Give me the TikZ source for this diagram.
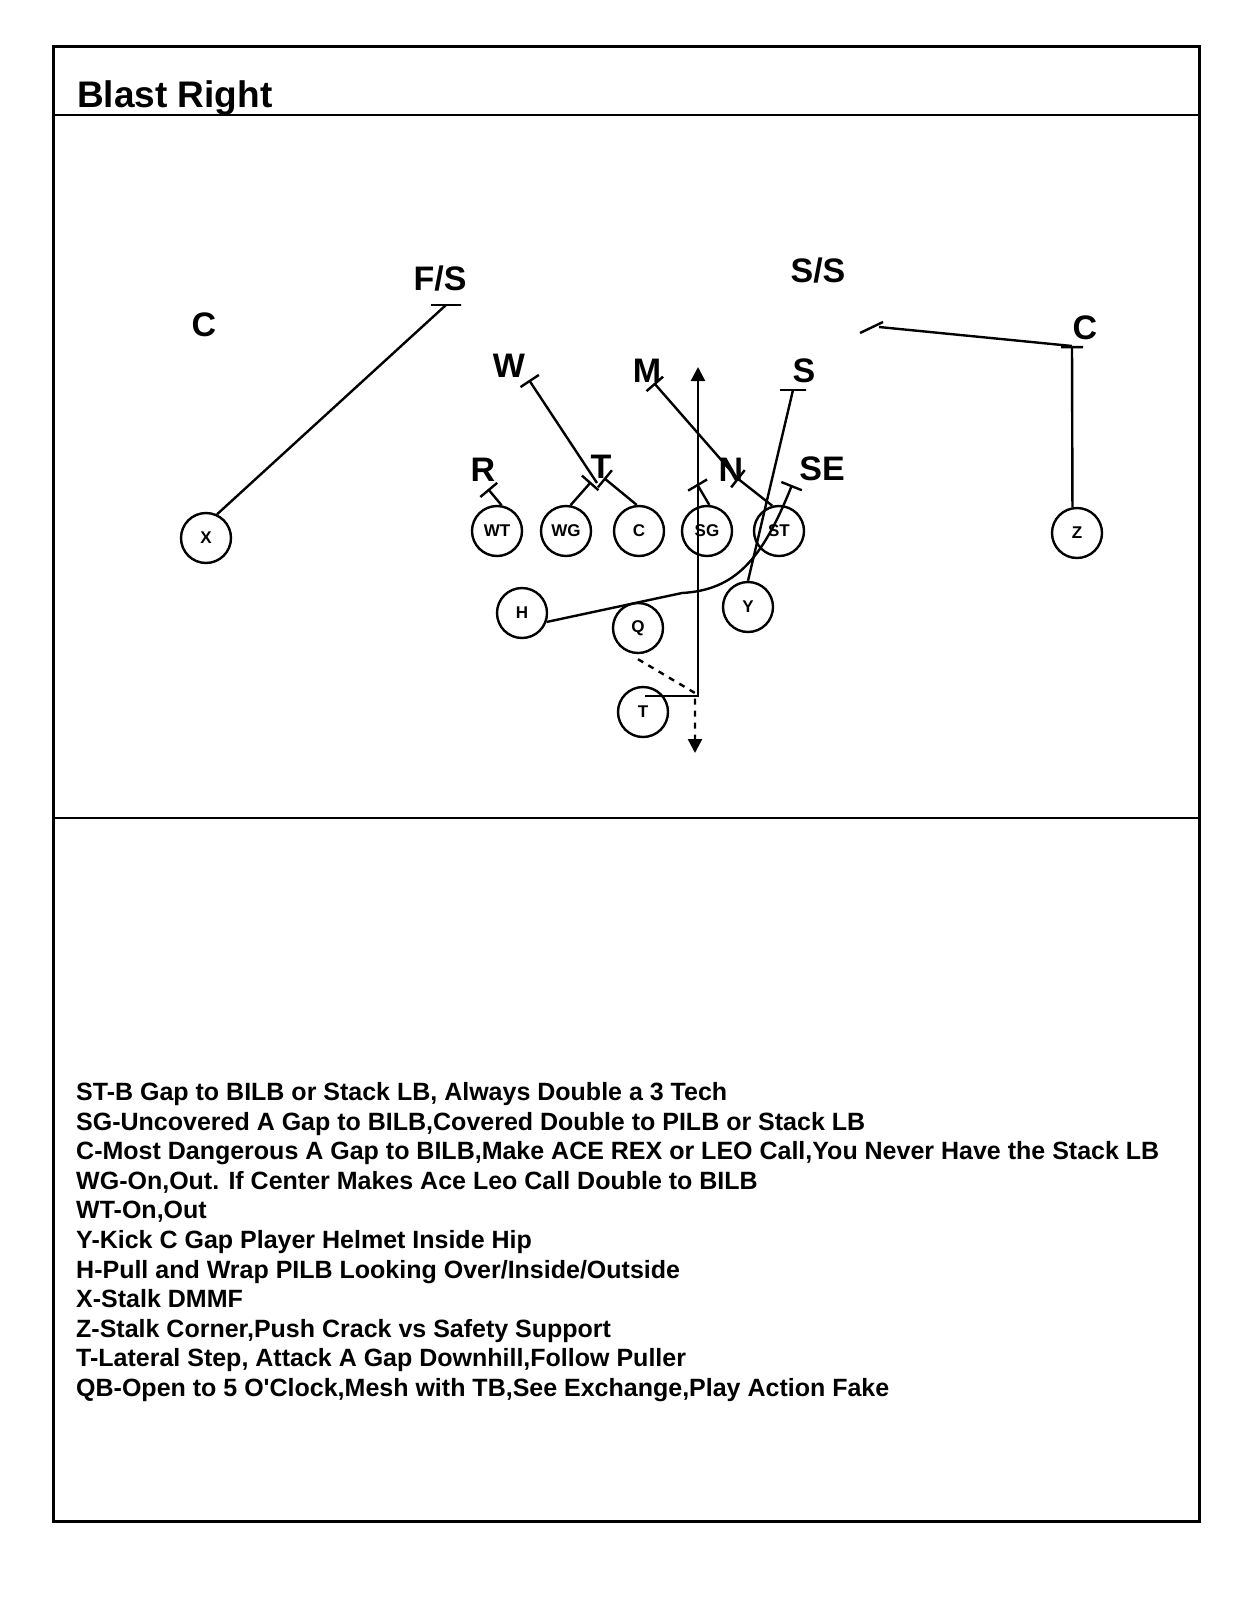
\documentclass[tikz,border=0pt]{standalone}
\usepackage{fontspec}
\setmainfont{Liberation Sans}
\usetikzlibrary{arrows.meta}

\begin{document}
\begin{tikzpicture}
        [x=0.5pt,y=-0.5pt,line width=1.2pt,
         player/.style={draw,shape=circle,inner sep=0,minimum size=25pt,font=\bfseries\fontsize{8.5}{10}\selectfont},
         defender/.style={inner sep=0,font=\bfseries\fontsize{17}{20}\selectfont},
         block/.style={-{Bar[width=#1]}},
         block/.default=11pt,
         hbar/.style={draw,inner sep=0,minimum width=#1,minimum height=0pt},
         run/.style={-{Triangle[width=7pt,length=7pt]}},
         notes/.style={anchor=base west,inner sep=0,font=\bfseries\fontsize{12.5}{15}\selectfont}]

        \useasboundingbox (0,0) rectangle (1237,1600);

        % frame
        \draw[line width=1.5pt] (53,47) rectangle (1199,1521);
        \draw (53,115) -- (1199,115);
        \draw (53,818) -- (1199,818);
        \node[anchor=base west,inner sep=0,font=\bfseries\fontsize{18.5}{22}\selectfont] (title) at (76,108) {Blast Right};

        % offense
        \node[player] (X) at (206,538) {X};
        \node[player] (WT) at (497,531) {WT};
        \node[player] (WG) at (566,531) {WG};
        \node[player] (C) at (639,531) {C};
        \node[player] (SG) at (707,531) {SG};
        \node[player] (ST) at (779,531) {ST};
        \node[player] (Z) at (1077,533) {Z};
        \node[player] (H) at (522,613) {H};
        \node[player] (Q) at (638,628) {Q};
        \node[player] (Y) at (748,607) {Y};
        \node[player] (T) at (643,712) {T};

        % defense
        \node[defender] (CL) at (204,325) {C};
        \node[defender] (FS) at (440,279) {F/S};
        \node[defender] (SS) at (818,271) {S/S};
        \node[defender] (CR) at (1085,328) {C};
        \node[defender] (W) at (509,366) {W};
        \node[defender] (M) at (647,371) {M};
        \node[defender] (S) at (804,371) {S};
        \node[defender] (R) at (483,470) {R};
        \node[defender] (DT) at (601,467) {T};
        \node[defender] (N) at (731,470) {N};
        \node[defender] (SE) at (822,469) {SE};

        \coordinate (fsblk) at (446,305);
        \coordinate (zblk) at (1072,346);
        \coordinate (pushstop) at (879,327);
        \coordinate (pushtip) at (883,322);
        \coordinate (pushend) at (860,333);
        \coordinate (rblk) at (488,489);
        \coordinate (wgblk) at (591,482);
        \coordinate (cblk) at (604,478);
        \coordinate (tjoin) at (597,483);
        \coordinate (wblk) at (529,380);
        \coordinate (sgblk) at (697,484);
        \coordinate (nblk) at (737,478);
        \coordinate (mblk) at (654,383);
        \coordinate (sblk) at (793,390);
        \coordinate (seblk) at (792,485);
        \coordinate (hbend) at (682,593);
        \path (T.center) ++(2,-16) coordinate (tstep);
        \coordinate (tturn) at (698,696);
        \coordinate (tend) at (698,367);
        \path (Q.south) ++(0,5) coordinate (qfake);
        \coordinate (mesh) at (695,693);
        \coordinate (fakeend) at (695,753);

        \draw (X.65) -- (fsblk);
        \node[hbar=15pt] (fsbar) at (fsblk) {};
        \draw[block] (Z.100) -- (zblk);
        \draw (zblk) -- (pushstop);
        \draw (pushend) -- (pushtip);
        \draw[block] (WT.80) -- (rblk);
        \draw[block] (WG.80) -- (wgblk);
        \draw[block] (C.95) -- (cblk);
        \draw[block] (tjoin) -- (wblk);
        \draw[block] (SG.85) -- (sgblk);
        \draw[block] (ST.105) -- (nblk);
        \draw[block] (nblk) -- (mblk);
        \draw (Y.north) -- (sblk);
        \node[hbar=13pt] (sbar) at (sblk) {};
        \draw[block] (H.-20) -- (hbend) .. controls (735,590) and (762,560) .. (seblk);
        \draw[run] (tstep) -- (tturn) -- (tend);
        \draw[run,dashed] (qfake) -- (mesh) -- (fakeend);

        % notes
        \node[notes] (n1) at (75,1100) {ST-B Gap to BILB or Stack LB, Always Double a 3 Tech};
        \node[notes] (n2) at (75,1130) {SG-Uncovered A Gap to BILB,Covered Double to PILB or Stack LB};
        \node[notes] (n3) at (75,1159) {C-Most Dangerous A Gap to BILB,Make ACE REX or LEO Call,You Never Have the Stack LB};
        \node[notes] (n4) at (75,1189) {WG-On,Out. If Center Makes Ace Leo Call Double to BILB};
        \node[notes] (n5) at (75,1218) {WT-On,Out};
        \node[notes] (n6) at (75,1248) {Y-Kick C Gap Player Helmet Inside Hip};
        \node[notes] (n7) at (75,1278) {H-Pull and Wrap PILB Looking Over/Inside/Outside};
        \node[notes] (n8) at (75,1307) {X-Stalk DMMF};
        \node[notes] (n9) at (75,1337) {Z-Stalk Corner,Push Crack vs Safety Support};
        \node[notes] (n10) at (75,1366) {T-Lateral Step, Attack A Gap Downhill,Follow Puller};
        \node[notes] (n11) at (75,1396) {QB-Open to 5 O\textquotesingle Clock,Mesh with TB,See Exchange,Play Action Fake};

      \end{tikzpicture}
\end{document}
